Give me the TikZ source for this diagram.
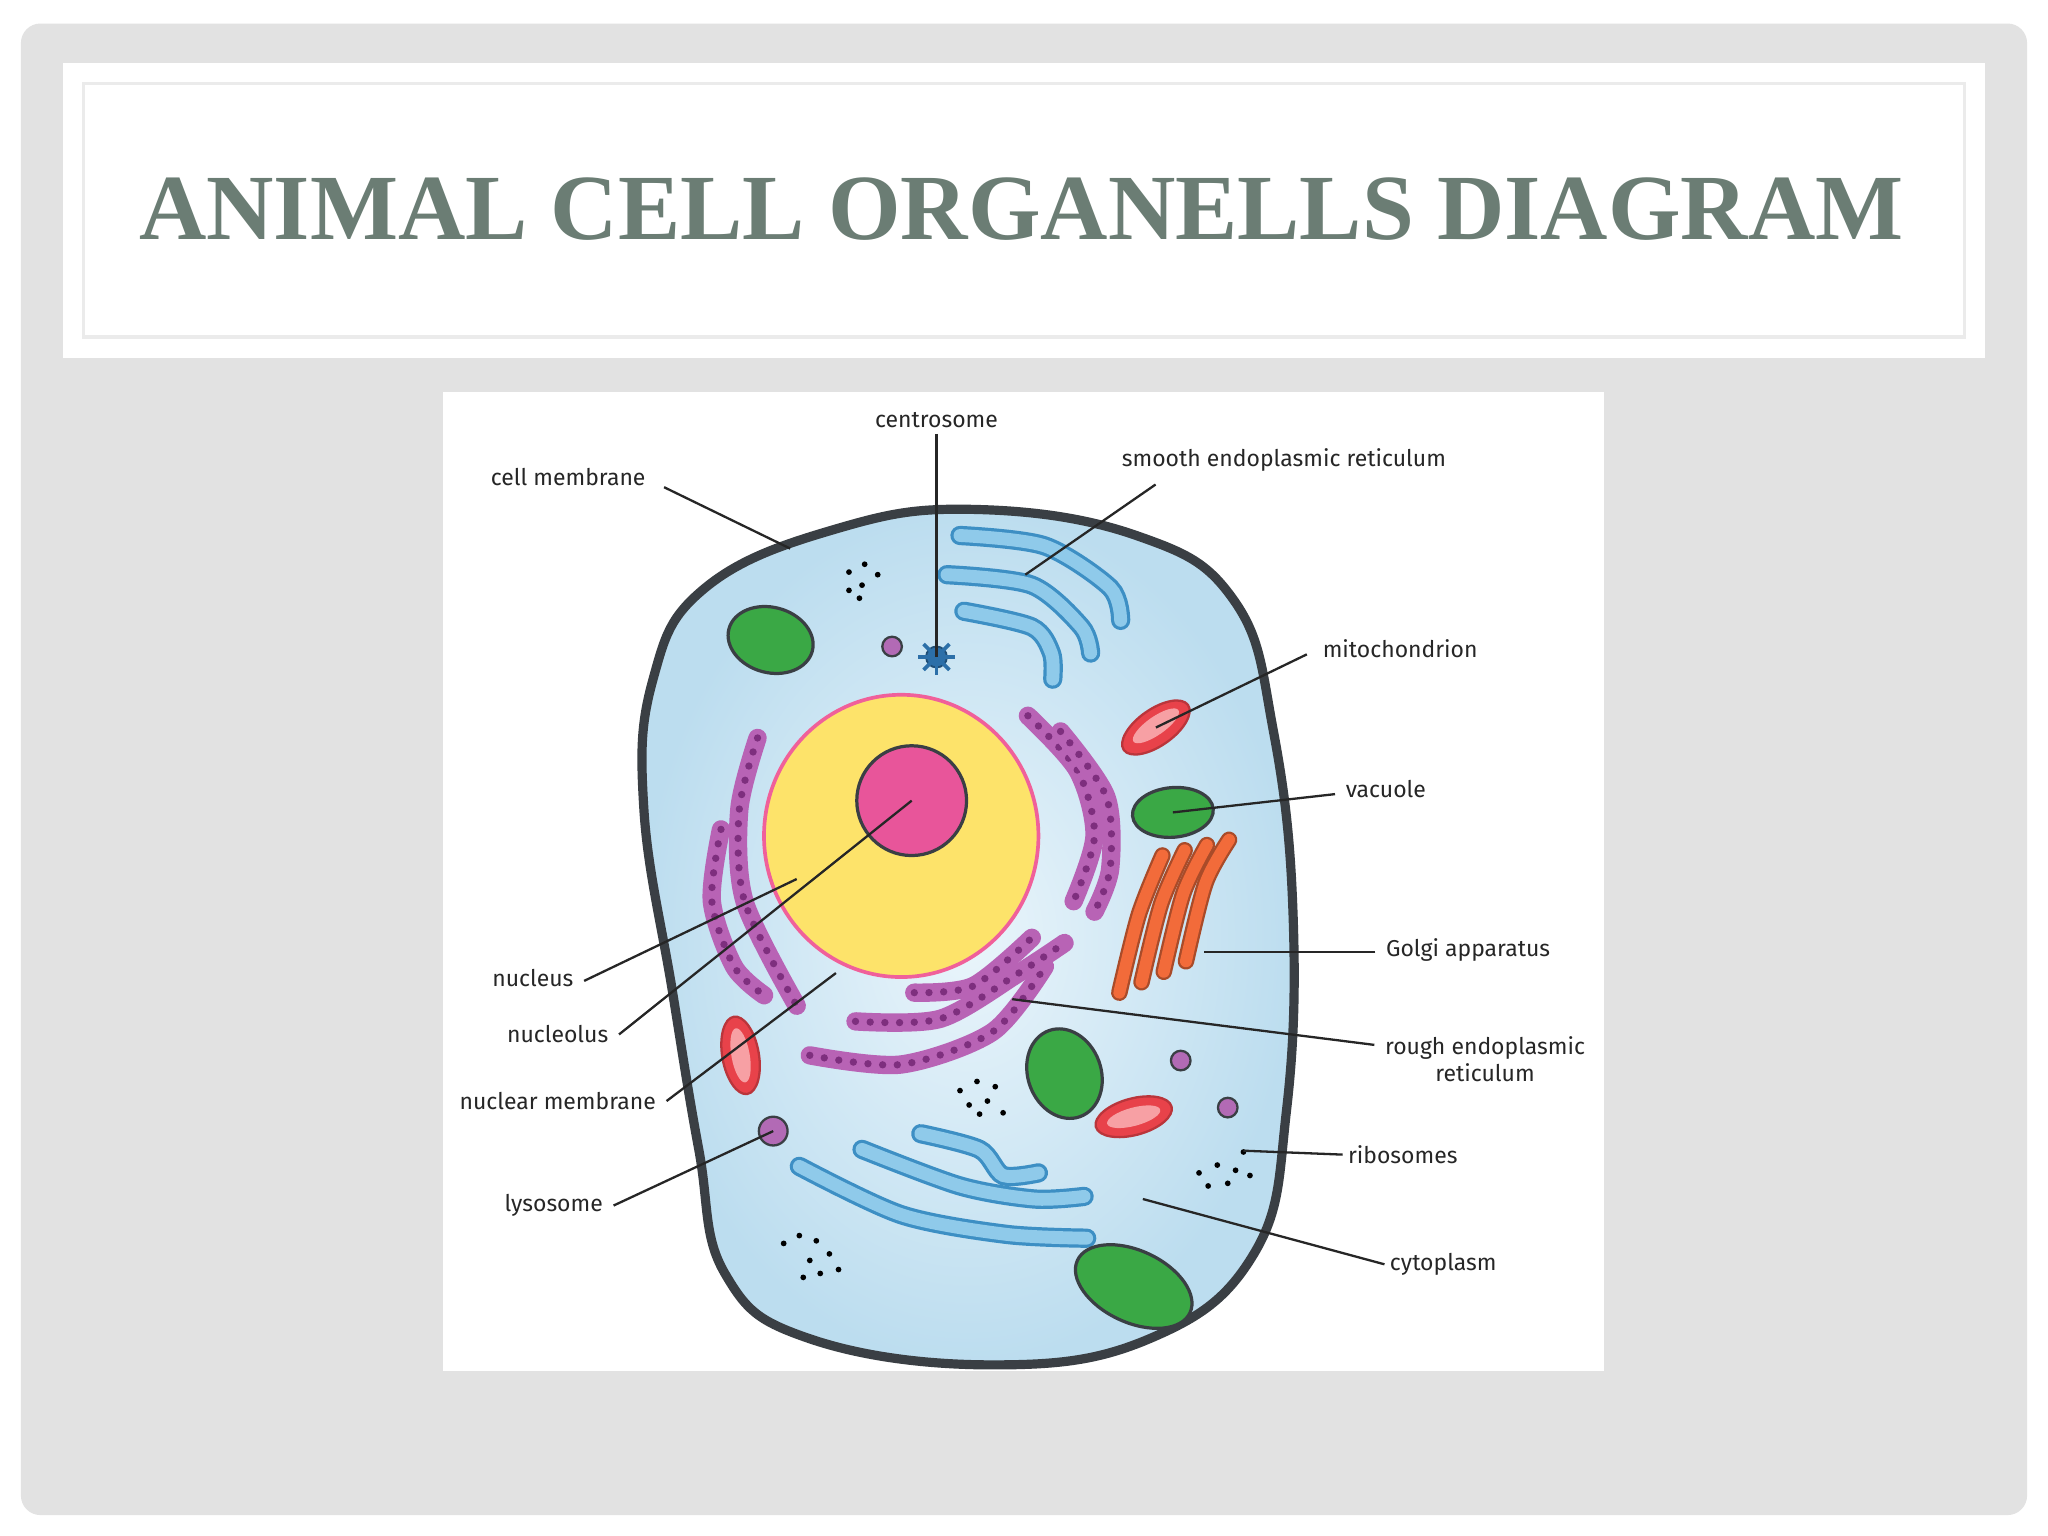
\documentclass[tikz,border=0pt]{standalone}
\usepackage{fontspec}
\setmainfont{Liberation Serif}
\newfontfamily\lblfont{Fira Sans}
\usetikzlibrary{shapes.geometric}
\definecolor{slidebg}{HTML}{E2E2E2}
\definecolor{titlec}{HTML}{6B7D74}
\definecolor{cellline}{HTML}{3A3F44}
\definecolor{cellin}{HTML}{EAF5FB}
\definecolor{cellout}{HTML}{BCDDEF}
\definecolor{nucfill}{HTML}{FDE36A}
\definecolor{nucline}{HTML}{F0609A}
\definecolor{nucleo}{HTML}{E8559A}
\definecolor{rerc}{HTML}{B863B5}
\definecolor{rerd}{HTML}{7E2F7E}
\definecolor{serc}{HTML}{8FCAEA}
\definecolor{serd}{HTML}{3D8FC4}
\definecolor{golgic}{HTML}{F26B3A}
\definecolor{mitoc}{HTML}{E8424A}
\definecolor{mitoin}{HTML}{F7A0A4}
\definecolor{vacc}{HTML}{3AA845}
\definecolor{lysoc}{HTML}{B26AB5}
\definecolor{centc}{HTML}{2C6FA8}
\tikzset{
 lbl/.style={font=\lblfont\fontsize{5}{6}\selectfont, text=black!85, inner sep=1pt, align=center},
 lead/.style={draw=black!85, line width=0.5pt},
 rer/.style={draw=rerc, line width=4pt, line cap=round,
   postaction={draw=rerd, line width=1.6pt, dash pattern=on 0pt off 3.2pt, line cap=round}},
 ser/.style={draw=serd, line width=4.2pt, line cap=round,
   postaction={draw=serc, line width=2.8pt, line cap=round}},
 golgi/.style={draw=golgic!70!black, line width=3.6pt, line cap=round,
   postaction={draw=golgic, line width=2.6pt, line cap=round}},
 mito/.style={ellipse, draw=mitoc!80!black, fill=mitoc, line width=0.5pt, minimum width=0.6cm, minimum height=0.28cm, inner sep=0pt,
   path picture={\fill[mitoin] (path picture bounding box.center) ellipse (0.21cm and 0.07cm);}},
 vac/.style={ellipse, draw=cellline, fill=vacc, line width=0.7pt, inner sep=0pt},
 lyso/.style={circle, draw=cellline, fill=lysoc, line width=0.5pt, minimum size=0.15cm, inner sep=0pt},
 dotc/.style={fill=black, radius=0.022cm},
}
\begin{document}
\begin{tikzpicture}[x=0.01cm,y=-0.01cm]
\useasboundingbox (0,0) rectangle (1568,1176);
\fill[white] (0,0) rectangle (1568,1176);
\fill[slidebg, rounded corners=0.15cm] (16,18) rectangle (1552,1160);
\fill[white] (48,48) rectangle (1520,274);
\draw[slidebg!70, line width=0.8pt] (64,64) rectangle (1504,258);
\node[text=titlec] (title) at (782,160) {\resizebox{13.5cm}{!}{\bfseries ANIMAL CELL ORGANELLS DIAGRAM}};
\fill[white] (339,300) rectangle (1228,1050);
% cell
\draw[draw=cellline, line width=2pt, inner color=cellin, outer color=cellout]
  plot[smooth cycle, tension=0.7] coordinates {(540,450) (640,405) (745,390) (870,410) (945,460) (975,560) (990,700) (985,850) (960,960) (880,1025) (760,1045) (620,1025) (555,975) (535,880) (515,760) (493,620) (500,520)};
\coordinate (cm) at (605,420);
% nucleus
\node[ellipse, draw=nucline, fill=nucfill, line width=0.8pt, minimum width=2.1cm, minimum height=2.16cm] (nucleus) at (690,640) {};
\node[circle, draw=cellline, fill=nucleo, line width=0.7pt, minimum size=0.84cm] (nucleolus) at (698,613) {};
% rough ER
\draw[rer] plot[smooth] coordinates {(580,565) (566,620) (570,690) (610,770)};
\draw[rer] plot[smooth] coordinates {(552,635) (545,690) (562,740) (585,762)};
\draw[rer] plot[smooth] coordinates {(787,548) (825,590) (838,640) (822,690)};
\draw[rer] plot[smooth] coordinates {(812,560) (847,610) (850,665) (838,698)};
\draw[rer] plot[smooth] coordinates {(620,808) (690,815) (760,790) (800,740)};
\draw[rer] plot[smooth] coordinates {(655,782) (720,780) (780,745) (815,722)};
\draw[rer] plot[smooth] coordinates {(700,760) (745,755) (790,718)};
\coordinate (rerpt) at (775,765);
% smooth ER
\draw[ser] plot[smooth] coordinates {(735,410) (800,418) (850,450) (858,475)};
\draw[ser] plot[smooth] coordinates {(725,440) (790,448) (828,480) (835,500)};
\draw[ser] plot[smooth] coordinates {(738,468) (790,480) (805,500) (806,520)};
\draw[ser] plot[smooth] coordinates {(612,893) (690,930) (770,945) (832,948)};
\draw[ser] plot[smooth] coordinates {(660,880) (735,908) (792,918) (830,916)};
\draw[ser] plot[smooth] coordinates {(705,868) (750,880) (768,900) (795,898)};
\coordinate (serpt) at (785,440);
% Golgi
\foreach \i in {0,1,2,3}{
  \draw[golgi] plot[smooth] coordinates {({857+17*\i},{760-8*\i}) ({872+17*\i},{700-8*\i}) ({890+17*\i},{655-4*\i})};
}
\coordinate (golgipt) at (922,729);
% mitochondria
\node[mito, rotate=35] (mito1) at (885,557) {};
\node[mito, rotate=-80] (mito2) at (567,808) {};
\node[mito, rotate=15] (mito3) at (868,855) {};
% vacuoles
\node[vac, minimum width=0.66cm, minimum height=0.5cm, rotate=-15] (vac1) at (590,490) {};
\node[vac, minimum width=0.62cm, minimum height=0.38cm, rotate=5] (vac2) at (898,622) {};
\node[vac, minimum width=0.56cm, minimum height=0.7cm, rotate=20] (vac3) at (815,822) {};
\node[vac, minimum width=0.95cm, minimum height=0.55cm, rotate=-25] (vac4) at (868,985) {};
% lysosomes
\node[lyso] (lyso1) at (683,495) {};
\node[lyso, minimum size=0.22cm] (lyso2) at (592,866) {};
\node[lyso] (lyso3) at (904,812) {};
\node[lyso] (lyso4) at (940,848) {};
% centrosome
\node[circle, fill=centc, draw=centc!70!black, minimum size=0.16cm, inner sep=0pt] (cent) at (717,503) {};
\foreach \a in {0,45,...,315}{\draw[centc, line width=0.8pt] (cent.center) -- ++(\a:14);}
% ribosomes
\foreach \x/\y in {650/438,662/432,672/440,660/448,650/452,658/458}{\fill[dotc] (\x,\y) circle;}
\foreach \x/\y in {735/835,748/828,762/832,742/846,756/843,768/852,750/853}{\fill[dotc] (\x,\y) circle;}
\foreach \x/\y in {918/898,932/892,946/896,925/908,940/906,952/882,957/900}{\fill[dotc] (\x,\y) circle;}
\foreach \x/\y in {600/952,612/946,625/950,620/965,635/960,628/975,642/972,615/978}{\fill[dotc] (\x,\y) circle;}
\coordinate (ribpt) at (952,881);
\coordinate (cytopt) at (875,918);
% labels
\node[lbl] (Lcm) at (435,365) {cell membrane};
\node[lbl] (Lcent) at (717,322) {centrosome};
\node[lbl] (Lser) at (983,352) {smooth endoplasmic reticulum};
\node[lbl] (Lmito) at (1072,497) {mitochondrion};
\node[lbl] (Lvac) at (1061,604) {vacuole};
\node[lbl] (Lgolgi) at (1124,727) {Golgi apparatus};
\node[lbl] (Lrer) at (1137,811) {rough endoplasmic\\reticulum};
\node[lbl] (Lrib) at (1074,884) {ribosomes};
\node[lbl] (Lcyto) at (1105,968) {cytoplasm};
\node[lbl] (Lnuc) at (408,749) {nucleus};
\node[lbl] (Lnucleo) at (427,792) {nucleolus};
\node[lbl] (Lnm) at (427,843) {nuclear membrane};
\node[lbl] (Llyso) at (424,923) {lysosome};
% leaders
\draw[lead] (Lcm.east) ++(10,8) -- (cm);
\draw[lead] (Lcent.south) -- (cent.center);
\draw[lead] (Lser.south west) ++(30,6) -- (serpt);
\draw[lead] (Lmito.west) ++(-8,4) -- (mito1.center);
\draw[lead] (Lvac.west) ++(-4,4) -- (vac2.center);
\draw[lead] (Lgolgi.west) ++(-4,2) -- (golgipt);
\draw[lead] (Lrer.west) ++(-4,-11) -- (rerpt);
\draw[lead] (Lrib.west) -- (ribpt);
\draw[lead] (Lcyto.west) -- (cytopt);
\draw[lead] (Lnuc.east) ++(4,2) -- (610,673);
\draw[lead] (Lnucleo.east) ++(4,0) -- (nucleolus.center);
\draw[lead] (Lnm.east) ++(4,0) -- (640,745);
\draw[lead] (Llyso.east) ++(4,0) -- (lyso2.center);
\end{tikzpicture}
\end{document}
